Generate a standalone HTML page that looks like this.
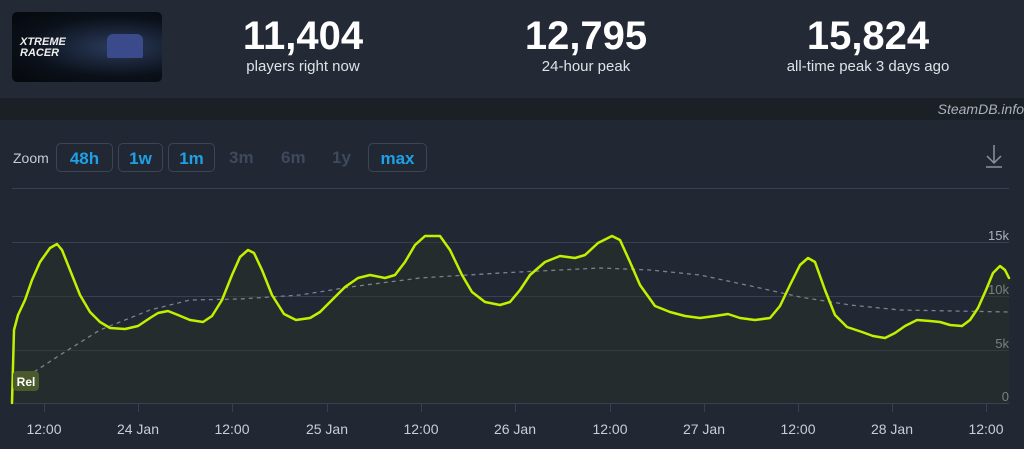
<!DOCTYPE html>
<html><head><style>
body{margin:0;width:1024px;height:449px;background:#212733;font-family:"Liberation Sans",sans-serif;overflow:hidden;position:relative}
.hdr{position:absolute;left:0;top:0;width:1024px;height:98px;background:#232a35}
.strip{position:absolute;left:0;top:98px;width:1024px;height:22px;background:#1b1f26}
.img{position:absolute;left:12px;top:12px;width:150px;height:70px;border-radius:5px;background:radial-gradient(ellipse at 70% 50%,#2b3b5c 0%,#0b111a 60%,#05080c 100%)}
.stat{position:absolute;top:14px;width:240px;text-align:center;color:#fff}
.stat b{display:block;font-size:40px;line-height:44px}
.stat span{font-size:15px;color:#dfe3e8}
.btn{position:absolute;top:143px;height:29px;border:1px solid #3a4556;border-radius:5px;color:#1ea0e6;font-weight:bold;font-size:17px;line-height:29px;text-align:center;box-sizing:border-box}
.dis{position:absolute;top:143px;line-height:29px;color:#3e4a5c;font-weight:bold;font-size:17px}
</style></head><body>
<div class="hdr"></div><div class="strip"></div>
<div class="img"><div style="position:absolute;left:8px;top:25px;color:#eee;font-style:italic;font-weight:bold;font-size:11px;line-height:11px">XTREME<br>RACER</div><div style="position:absolute;left:95px;top:22px;width:36px;height:24px;background:#3a4a8a;border-radius:6px 6px 2px 2px"></div></div>
<div class="stat" style="left:183px"><b>11,404</b><span>players right now</span></div>
<div class="stat" style="left:466px"><b>12,795</b><span>24-hour peak</span></div>
<div class="stat" style="left:748px"><b>15,824</b><span>all-time peak 3 days ago</span></div>
<div style="position:absolute;right:0;top:101px;color:#aab2bd;font-style:italic;font-size:14px">SteamDB.info</div>
<div style="position:absolute;left:13px;top:150px;color:#c6ccd4;font-size:14px">Zoom</div>
<div class="btn" style="left:56px;width:57px">48h</div>
<div class="btn" style="left:118px;width:45px">1w</div>
<div class="btn" style="left:168px;width:47px">1m</div>
<div class="dis" style="left:229px">3m</div>
<div class="dis" style="left:281px">6m</div>
<div class="dis" style="left:332px">1y</div>
<div class="btn" style="left:368px;width:59px">max</div>
<svg style="position:absolute;left:0;top:0" width="1024" height="449">
<g stroke="#8a93a0" stroke-width="1.5" fill="none"><path d="M994 145v18M987 156l7 7 7-7M986 167h16"/></g>
<g stroke="#364152" stroke-width="1"><line x1="12" y1="188.5" x2="1009" y2="188.5"/><line x1="12" y1="242.5" x2="1009" y2="242.5"/><line x1="12" y1="296.5" x2="1009" y2="296.5"/><line x1="12" y1="350.5" x2="1009" y2="350.5"/><line x1="12" y1="403.5" x2="1009" y2="403.5"/>
<path d="M44.5 403v9M138.5 403v9M232.5 403v9M327.5 403v9M421.5 403v9M515.5 403v9M610.5 403v9M704.5 403v9M798.5 403v9M892.5 403v9M986.5 403v9"/></g>
<g fill="#a9b1bc" font-size="13" text-anchor="end"><text x="1009" y="240">15k</text><text x="1009" y="294">10k</text><text x="1009" y="348">5k</text><text x="1009" y="401">0</text></g>
<g fill="#c9ced6" font-size="14" text-anchor="middle"><text x="44" y="434">12:00</text><text x="138" y="434">24 Jan</text><text x="232" y="434">12:00</text><text x="327" y="434">25 Jan</text><text x="421" y="434">12:00</text><text x="515" y="434">26 Jan</text><text x="610" y="434">12:00</text><text x="704" y="434">27 Jan</text><text x="798" y="434">12:00</text><text x="892" y="434">28 Jan</text><text x="986" y="434">12:00</text></g>
<path id="c" d="M12 403L14 330 18 315 25 300 32 280 40 262 50 248 57 244 62 250 70 270 80 295 90 312 100 322 110 328 125 329 138 326 150 318 158 313 168 311 178 315 190 320 203 322 212 316 222 300 232 275 240 257 248 250 254 253 262 270 272 295 284 314 296 320 310 318 320 312 332 300 345 287 358 278 370 275 385 278 395 275 405 262 415 245 425 236 440 236 450 250 462 275 472 292 485 302 500 305 510 302 520 290 530 275 545 262 560 256 575 258 585 255 598 243 612 236 620 240 630 262 640 285 655 306 670 312 685 316 700 318 715 316 728 314 740 318 755 320 770 318 780 306 790 285 800 265 808 258 815 262 825 290 835 315 847 327 862 332 873 336 885 338 895 333 905 326 917 320 930 321 940 322 950 325 962 326 970 320 978 308 986 290 993 273 1000 266 1005 270 1009 278" fill="none"/>
<path d="M12 403L14 330 18 315 25 300 32 280 40 262 50 248 57 244 62 250 70 270 80 295 90 312 100 322 110 328 125 329 138 326 150 318 158 313 168 311 178 315 190 320 203 322 212 316 222 300 232 275 240 257 248 250 254 253 262 270 272 295 284 314 296 320 310 318 320 312 332 300 345 287 358 278 370 275 385 278 395 275 405 262 415 245 425 236 440 236 450 250 462 275 472 292 485 302 500 305 510 302 520 290 530 275 545 262 560 256 575 258 585 255 598 243 612 236 620 240 630 262 640 285 655 306 670 312 685 316 700 318 715 316 728 314 740 318 755 320 770 318 780 306 790 285 800 265 808 258 815 262 825 290 835 315 847 327 862 332 873 336 885 338 895 333 905 326 917 320 930 321 940 322 950 325 962 326 970 320 978 308 986 290 993 273 1000 266 1005 270 1009 278L1009 403Z" fill="#2b3526" opacity="0.4"/>
<path d="M14 385L60 355 100 330 150 310 190 300 240 299 300 295 350 287 420 278 500 273 600 268 650 270 700 275 760 288 800 297 850 305 900 310 1009 312" fill="none" stroke="#7b828c" stroke-width="1.3" stroke-dasharray="4,4"/>
<use href="#c" stroke="#c4f000" stroke-width="2.5" stroke-linejoin="round" stroke-linecap="round"/>
<rect x="13" y="371" width="26" height="20" rx="4" fill="#4a5a2c"/><text x="26" y="386" fill="#fff" font-size="12" font-weight="bold" text-anchor="middle">Rel</text>
</svg>
</body></html>
